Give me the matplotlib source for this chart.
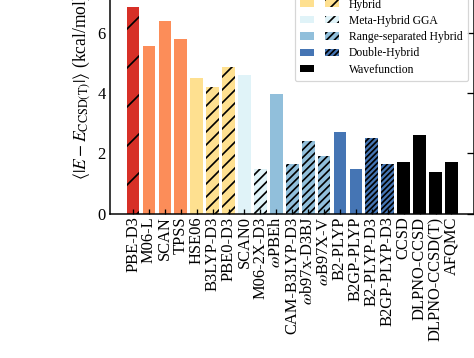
import numpy as np
import matplotlib
matplotlib.use("Agg")
import matplotlib.pyplot as plt
from matplotlib.patches import Patch
from matplotlib.legend_handler import HandlerTuple

DPI = 117
PX = 72.0 / DPI          # one output pixel in points
W, H = 474, 358

methods = ["PBE-D3", "M06-L", "SCAN", "TPSS", "HSE06", "B3LYP-D3", "PBE0-D3",
           "SCAN0", "M06-2X-D3", r"$\omega$PBEh", "CAM-B3LYP-D3",
           r"$\omega$b97x-D3BJ", r"$\omega$B97X-V", "B2-PLYP", "B2GP-PLYP",
           "B2-PLYP-D3", "B2GP-PLYP-D3", "CCSD", "DLPNO-CCSD",
           "DLPNO-CCSD(T)", "AFQMC"]
errors = [6.87, 5.58, 6.40, 5.80, 4.50, 4.20, 4.87,
          4.60, 1.47, 3.97, 1.63,
          2.40, 1.90, 2.70, 1.47,
          2.50, 1.63, 1.72, 2.60,
          1.37, 1.72]
family = [0, 1, 1, 1, 2, 2, 2,
          3, 3, 4, 4,
          4, 4, 5, 5,
          5, 5, 6, 6,
          6, 6]
dispersion = [1, 0, 0, 0, 0, 1, 1,
              0, 1, 0, 1,
              1, 1, 0, 0,
              1, 1, 0, 0,
              0, 0]

family_names = ["GGA", "Meta-GGA", "Hybrid", "Meta-Hybrid GGA",
                "Range-separated Hybrid", "Double-Hybrid", "Wavefunction"]
family_colors = ["#d73027", "#fc8d59", "#fee090", "#e0f3f8",
                 "#91bfdb", "#4575b4", "#000000"]
family_hatch = ["/", "//", "///", "////", "/////", "///////", ""]

plt.rcParams.update({
    "font.family": "serif",
    "font.serif": ["Liberation Serif", "DejaVu Serif"],
    "mathtext.fontset": "stix",
    "hatch.linewidth": 1.7 * PX,
    "axes.linewidth": 1.5 * PX,
})

fs = 16.5 * PX
ytop = 8.45
fig = plt.figure(figsize=(W / DPI, H / DPI), dpi=DPI)
ax = fig.add_axes([110 / W, (H - 213.5) / H, (474.5 - 110) / W, ytop * 30.1 / H])

x = np.arange(len(methods))
bars = ax.bar(x, errors, width=0.8,
              color=[family_colors[f] for f in family],
              edgecolor="black", linewidth=0)
for b, f, d in zip(bars, family, dispersion):
    if d:
        b.set_hatch(family_hatch[f])

ax.set_xlim(-1.45, len(methods) - 1 + 1.45)
ax.set_ylim(0, ytop)
ax.set_yticks([0, 2, 4, 6, 8])
ax.set_xticks(x)
ax.set_xticklabels(methods, rotation=90, fontsize=fs)
ax.tick_params(axis="y", labelsize=fs, left=False, right=True, direction="in",
               length=7 * PX, width=1.3 * PX, pad=4 * PX)
ax.tick_params(axis="x", direction="in", length=5 * PX, width=1.3 * PX, pad=3 * PX)
ax.set_ylabel(r"$\langle|E - E_{\mathrm{CCSD(T)}}|\rangle$ (kcal/mol)",
              fontsize=17.5 * PX, labelpad=5 * PX)

# legend: plain + dispersion-hatched swatch per family
handles = []
for c, h in zip(family_colors, family_hatch):
    plain = Patch(facecolor=c, edgecolor="black", linewidth=0)
    if h:
        hat = Patch(facecolor=c, edgecolor="black", linewidth=0, hatch=h)
    else:
        hat = Patch(facecolor="none", edgecolor="none", linewidth=0)
    handles.append((plain, hat))
lfs = 11.6 * PX
leg = ax.legend(handles, family_names, fontsize=lfs,
                handler_map={tuple: HandlerTuple(ndivide=None, pad=0.88)},
                handlelength=3.4, handleheight=0.6, handletextpad=0.85,
                labelspacing=0.37, borderpad=0.45, borderaxespad=0,
                loc="lower right",
                bbox_to_anchor=((468 - 110) / (474.5 - 110), (213.5 - 81) / 30.1 / ytop))
leg.get_frame().set_linewidth(1.2 * PX)

fig.savefig("out.png", dpi=DPI)
